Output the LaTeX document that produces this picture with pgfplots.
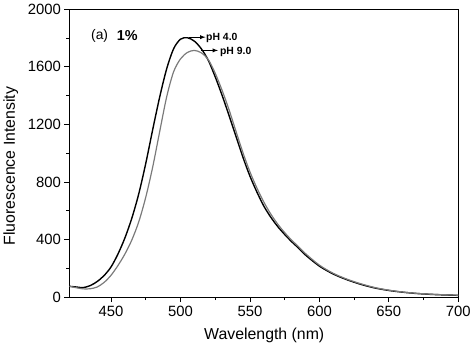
\documentclass[border=0pt]{standalone}
\usepackage{pgfplots}
\pgfplotsset{compat=1.18}
\usepackage{fontspec}
\setmainfont{Liberation Sans}
\definecolor{grayline}{HTML}{7A7A7A}
\begin{document}
\begin{tikzpicture}[x=1bp,y=1bp]
\begin{axis}[
  at={(0,0)}, anchor=south west,
  scale only axis,
  width=391bp, height=289.4bp,
  xmin=420, xmax=700, ymin=0, ymax=2000,
  xtick={450,500,...,700},
  ytick={0,400,...,2000},
  minor tick num=1,
  tick align=outside,
  xtick pos=left, ytick pos=left,
  major tick length=5bp, minor tick length=3bp,
  tick style={black, line width=0.8bp},
  axis line style={line width=0.8bp},
  /pgf/number format/1000 sep={},
  /pgf/number format/assume math mode=true,
  ticklabel style={font=\fontsize{15}{17}\selectfont},
  xticklabel style={yshift=-1bp},
  label style={font=\fontsize{16}{18}\selectfont},
  xlabel={Wavelength (nm)},
  ylabel={Fluorescence Intensity},
  xlabel style={at={(axis description cs:0.501,-0.132)}, anchor=center},
  ylabel style={at={(axis description cs:-0.151,0.455)}, anchor=center},
  clip=true,
]
\addplot[black, line width=1.4bp, smooth] coordinates {
(420,75) (425,70) (430,66) (435,80) (440,108) (445,150) (450,210) (455,300)
(460,412) (465,550) (470,720) (475,930) (480,1165) (485,1390) (490,1585)
(495,1725) (500,1792) (505,1802) (510,1778) (515,1725) (520,1645) (525,1530)
(530,1400) (535,1260) (540,1115) (545,970) (550,840) (555,730) (560,632)
(565,555) (570,490) (575,435) (580,385) (585,340) (590,292) (600,215)
(610,160) (620,120) (630,88) (640,63) (650,46) (660,34) (670,25) (680,19)
(690,15) (700,12)
};
\addplot[grayline, line width=1.2bp, smooth] coordinates {
(420,75) (425,65) (430,57) (435,58) (440,70) (445,102) (450,152) (455,220)
(460,300) (465,398) (470,525) (475,695) (480,905) (485,1150) (490,1390)
(495,1565) (500,1655) (505,1700) (510,1714) (515,1697) (520,1650) (525,1555)
(530,1435) (535,1300) (540,1150) (545,1002) (550,870) (555,758) (560,660)
(565,577) (570,507) (575,448) (580,396) (585,350) (590,302) (600,222)
(610,165) (620,124) (630,92) (640,66) (650,48) (660,35) (670,26) (680,20)
(690,16) (700,13)
};
\node[anchor=west, inner sep=0pt, font=\fontsize{14}{16}\selectfont] at (axis cs:435.5,1815) {(a)};
\node[anchor=west, inner sep=0pt, font=\bfseries\fontsize{14.5}{16}\selectfont] at (axis cs:454,1815) {1\%};
\draw[-latex, line width=0.9bp] (axis cs:506,1806) -- (axis cs:518,1806);
\node[anchor=west, inner sep=0.5bp, font=\bfseries\fontsize{10.5}{12}\selectfont] at (axis cs:518,1800) {pH 4.0};
\draw[-latex, line width=0.9bp] (axis cs:515,1714) -- (axis cs:527,1714);
\node[anchor=west, inner sep=0.5bp, font=\bfseries\fontsize{10.5}{12}\selectfont] at (axis cs:528,1705) {pH 9.0};
\end{axis}
\useasboundingbox (-69,-53.3) rectangle (405,298.7);
\end{tikzpicture}
\end{document}
